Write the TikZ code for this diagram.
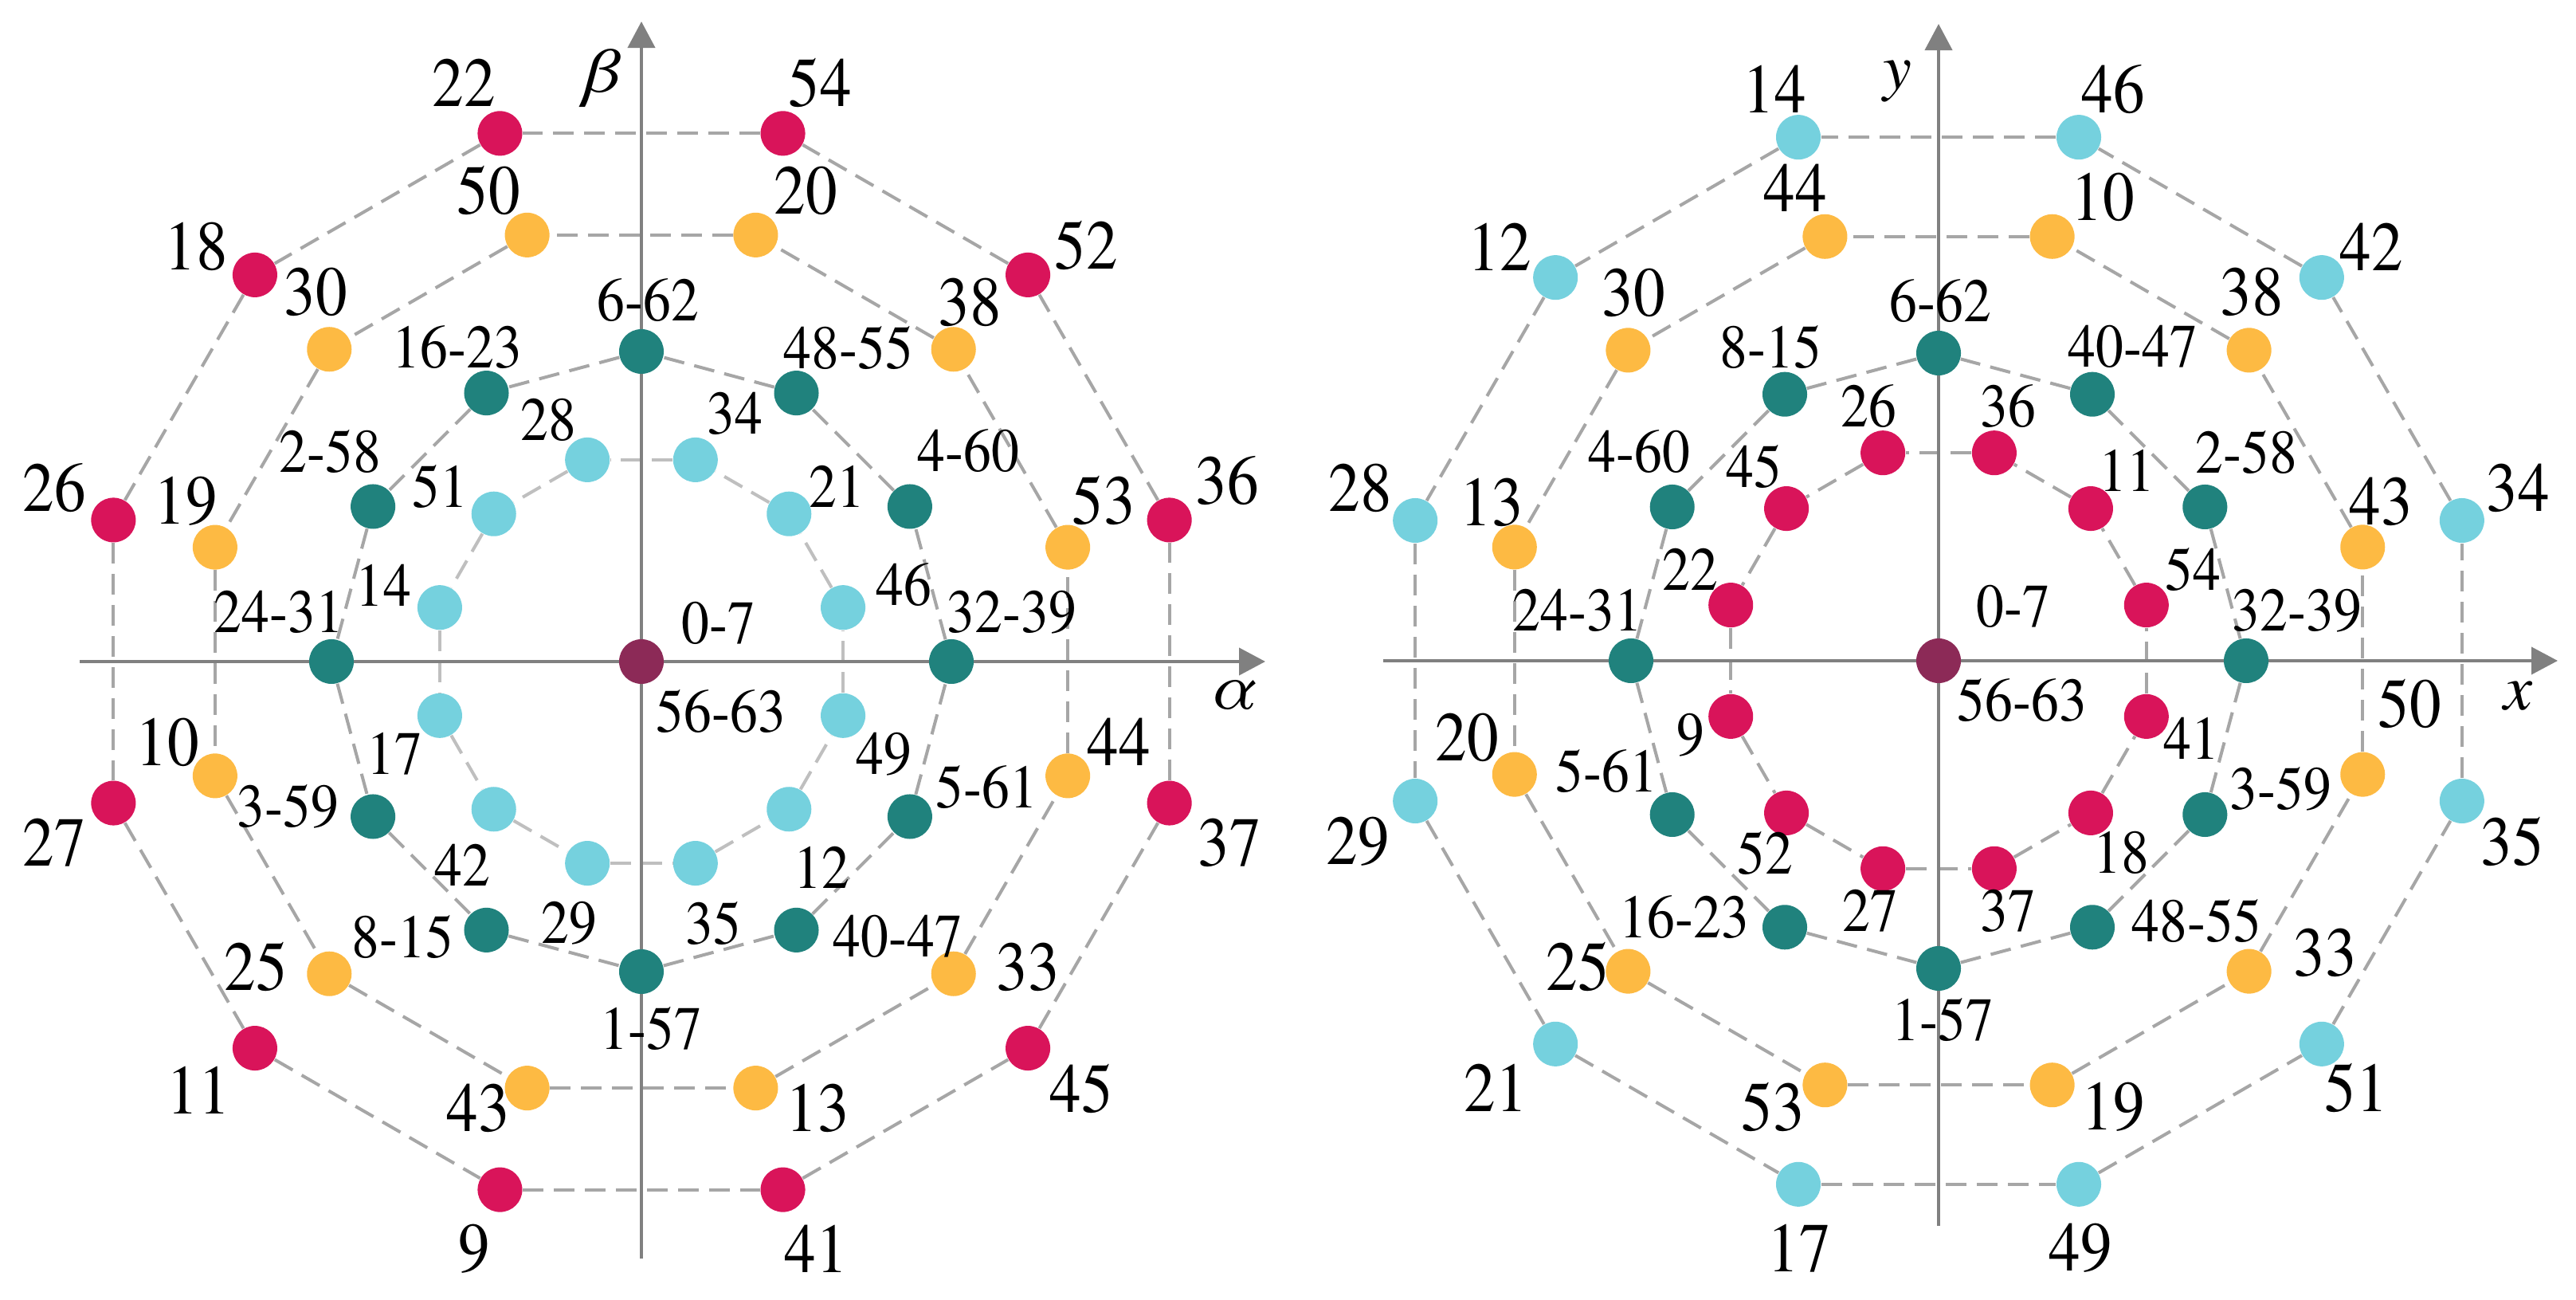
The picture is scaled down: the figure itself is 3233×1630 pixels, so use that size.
\documentclass[tikz,border=0pt]{standalone}
\usepackage{fontspec}
\setmainfont{TeX Gyre Termes}
\usetikzlibrary{arrows.meta,backgrounds}
\definecolor{cRed}{RGB}{217,20,90}
\definecolor{cOrange}{RGB}{253,186,67}
\definecolor{cTeal}{RGB}{32,130,125}
\definecolor{cCyan}{RGB}{117,209,222}
\definecolor{cMaroon}{RGB}{140,42,87}
\definecolor{cLine}{RGB}{166,166,166}
\definecolor{cLineLight}{RGB}{191,191,191}
\definecolor{cAxis}{RGB}{128,128,128}
\newcommand{\sq}[1]{\scalebox{0.9}[1]{#1}}
\tikzset{
  dot/.style={circle,inner sep=0pt,minimum size=0.56cm,draw=none},
  rdot/.style={dot,fill=cRed},
  odot/.style={dot,fill=cOrange},
  tdot/.style={dot,fill=cTeal},
  cdot/.style={dot,fill=cCyan},
  mdot/.style={dot,fill=cMaroon},
  ring/.style={draw=cLine,line width=1.14pt,dash pattern=on 0.26cm off 0.13cm},
  ringlight/.style={ring,draw=cLineLight},
  axis/.style={draw=cAxis,line width=1.14pt,-{Triangle[length=0.33cm,width=0.34cm]}},
  lbig/.style={inner sep=0pt,font=\fontsize{25}{25}\selectfont},
  lsmall/.style={inner sep=0pt,font=\fontsize{22}{22}\selectfont},
  laxis/.style={inner sep=0pt,font=\fontsize{23}{23}\selectfont\itshape},
}
\begin{document}
\begin{tikzpicture}[x=0.01cm,y=0.01cm]
\useasboundingbox (0,0) rectangle (3233,1630);
% ================= LEFT (alpha-beta) =================
\begin{scope}[shift={(805,800)}]
  \foreach \k in {0,...,11}{
    \node[rdot] (LA\k) at ({15+30*\k}:686) {};
    \node[odot] (LB\k) at ({15+30*\k}:554) {};
    \node[tdot] (LC\k) at ({30*\k}:389) {};
    \node[cdot] (LD\k) at ({15+30*\k}:262) {};
  }
  \coordinate (LXs) at (-705,0);
  \coordinate (LXe) at (783,0);
  \coordinate (LYs) at (0,-749);
  \coordinate (LYe) at (0,803);
  \begin{scope}[on background layer]
    \foreach \k in {0,...,11}{
      \pgfmathtruncatemacro{\n}{mod(\k+1,12)}
      \draw[ring] (LA\k) -- (LA\n);
      \draw[ring] (LB\k) -- (LB\n);
      \draw[ring] (LC\k) -- (LC\n);
      \draw[ringlight] (LD\k) -- (LD\n);
    }
    \draw[axis] (LXs) -- (LXe);
    \draw[axis] (LYs) -- (LYe);
  \end{scope}
  \node[mdot] (LO) at (0,0) {};
  % labels outer rings
  \node[lbig] (Ln22) at (-223,726) {\sq{22}};
  \node[lbig] (Ln54) at (224,726) {\sq{54}};
  \node[lbig] (Ln50) at (-192,591) {\sq{50}};
  \node[lbig] (Ln20) at (206,591) {\sq{20}};
  \node[lbig] (Ln18) at (-559,521) {\sq{18}};
  \node[lbig] (Ln52) at (558,522) {\sq{52}};
  \node[lbig] (Ln30) at (-409,464) {\sq{30}};
  \node[lbig] (Ln38) at (412,451) {\sq{38}};
  \node[lbig] (Ln26) at (-737,218) {\sq{26}};
  \node[lbig] (Ln19) at (-572,201) {\sq{19}};
  \node[lbig] (Ln53) at (580,202) {\sq{53}};
  \node[lbig] (Ln36) at (735,227) {\sq{36}};
  \node[lbig] (Ln10) at (-595,-101) {\sq{10}};
  \node[lbig] (Ln44) at (599,-101) {\sq{44}};
  \node[lbig] (Ln27) at (-737,-227) {\sq{27}};
  \node[lbig] (Ln37) at (738,-227) {\sq{37}};
  \node[lbig] (Ln25) at (-484,-383) {\sq{25}};
  \node[lbig] (Ln33) at (485,-383) {\sq{33}};
  \node[lbig] (Ln11) at (-556,-538) {\sq{11}};
  \node[lbig] (Ln45) at (552,-536) {\sq{45}};
  \node[lbig] (Ln43) at (-205,-560) {\sq{43}};
  \node[lbig] (Ln13) at (221,-560) {\sq{13}};
  \node[lbig] (Ln9) at (-210,-737) {\sq{9}};
  \node[lbig] (Ln41) at (219,-737) {\sq{41}};
  % labels inner rings
  \node[lsmall] (Ln6t62) at (8,453) {\sq{6-62}};
  \node[lsmall] (Ln16t23) at (-231,394) {\sq{16-23}};
  \node[lsmall] (Ln48t55) at (260,394) {\sq{48-55}};
  \node[lsmall] (Ln28) at (-117,303) {\sq{28}};
  \node[lsmall] (Ln34) at (117,311) {\sq{34}};
  \node[lsmall] (Ln2t58) at (-391,264) {\sq{2-58}};
  \node[lsmall] (Ln4t60) at (410,264) {\sq{4-60}};
  \node[lsmall] (Ln51) at (-253,220) {\sq{51}};
  \node[lsmall] (Ln21) at (245,220) {\sq{21}};
  \node[lsmall] (Ln14) at (-324,96) {\sq{14}};
  \node[lsmall] (Ln46) at (329,96) {\sq{46}};
  \node[lsmall] (Ln24t31) at (-455,62) {\sq{24-31}};
  \node[lsmall] (Ln32t39) at (465,62) {\sq{32-39}};
  \node[lsmall] (Ln0t7) at (97,48) {\sq{0-7}};
  \node[lsmall] (Ln56t63) at (100,-62) {\sq{56-63}};
  \node[lsmall] (Ln17) at (-310,-116) {\sq{17}};
  \node[lsmall] (Ln49) at (304,-116) {\sq{49}};
  \node[lsmall] (Ln3t59) at (-444,-182) {\sq{3-59}};
  \node[lsmall] (Ln5t61) at (433,-157) {\sq{5-61}};
  \node[lsmall] (Ln42) at (-225,-255) {\sq{42}};
  \node[lsmall] (Ln12) at (226,-258) {\sq{12}};
  \node[lsmall] (Ln8t15) at (-300,-345) {\sq{8-15}};
  \node[lsmall] (Ln29) at (-91,-328) {\sq{29}};
  \node[lsmall] (Ln35) at (90,-328) {\sq{35}};
  \node[lsmall] (Ln40t47) at (322,-345) {\sq{40-47}};
  \node[lsmall] (Ln1t57) at (12,-460) {\sq{1-57}};
  \node[laxis] (Lbeta) at (-52,732) {β};
  \node[laxis] (Lalpha) at (742,-42) {α};
\end{scope}
% ================= RIGHT (x-y) =================
\begin{scope}[shift={(2433,801)}]
  \foreach \k in {0,...,11}{
    \node[cdot] (RA\k) at ({15+30*\k}:680) {};
    \node[odot] (RB\k) at ({15+30*\k}:551) {};
    \node[tdot] (RC\k) at ({30*\k}:386) {};
    \node[rdot] (RD\k) at ({15+30*\k}:270) {};
  }
  \coordinate (RXs) at (-697,0);
  \coordinate (RXe) at (777,0);
  \coordinate (RYs) at (0,-709);
  \coordinate (RYe) at (0,799);
  \begin{scope}[on background layer]
    \foreach \k in {0,...,11}{
      \pgfmathtruncatemacro{\n}{mod(\k+1,12)}
      \draw[ring] (RA\k) -- (RA\n);
      \draw[ring] (RB\k) -- (RB\n);
      \draw[ring] (RC\k) -- (RC\n);
      \draw[ring] (RD\k) -- (RD\n);
    }
    \draw[axis] (RXs) -- (RXe);
    \draw[axis] (RYs) -- (RYe);
  \end{scope}
  \node[mdot] (RO) at (0,0) {};
  % labels outer rings
  \node[lbig] (Rn14) at (-206,717) {\sq{14}};
  \node[lbig] (Rn46) at (219,717) {\sq{46}};
  \node[lbig] (Rn44) at (-180,593) {\sq{44}};
  \node[lbig] (Rn10) at (206,582) {\sq{10}};
  \node[lbig] (Rn12) at (-551,519) {\sq{12}};
  \node[lbig] (Rn42) at (543,519) {\sq{42}};
  \node[lbig] (Rn30) at (-383,462) {\sq{30}};
  \node[lbig] (Rn38) at (393,463) {\sq{38}};
  \node[lbig] (Rn28) at (-726,217) {\sq{28}};
  \node[lbig] (Rn13) at (-561,199) {\sq{13}};
  \node[lbig] (Rn43) at (555,200) {\sq{43}};
  \node[lbig] (Rn34) at (727,217) {\sq{34}};
  \node[lbig] (Rn20) at (-592,-96) {\sq{20}};
  \node[lbig] (Rn50) at (591,-54) {\sq{50}};
  \node[lbig] (Rn29) at (-729,-227) {\sq{29}};
  \node[lbig] (Rn35) at (720,-227) {\sq{35}};
  \node[lbig] (Rn25) at (-453,-384) {\sq{25}};
  \node[lbig] (Rn33) at (485,-366) {\sq{33}};
  \node[lbig] (Rn21) at (-556,-536) {\sq{21}};
  \node[lbig] (Rn51) at (524,-536) {\sq{51}};
  \node[lbig] (Rn53) at (-208,-560) {\sq{53}};
  \node[lbig] (Rn19) at (219,-560) {\sq{19}};
  \node[lbig] (Rn17) at (-175,-737) {\sq{17}};
  \node[lbig] (Rn49) at (178,-737) {\sq{49}};
  % labels inner rings
  \node[lsmall] (Rn6t62) at (2,451) {\sq{6-62}};
  \node[lsmall] (Rn8t15) at (-211,394) {\sq{8-15}};
  \node[lsmall] (Rn40t47) at (244,394) {\sq{40-47}};
  \node[lsmall] (Rn26) at (-88,319) {\sq{26}};
  \node[lsmall] (Rn36) at (87,319) {\sq{36}};
  \node[lsmall] (Rn4t60) at (-376,262) {\sq{4-60}};
  \node[lsmall] (Rn45) at (-232,244) {\sq{45}};
  \node[lsmall] (Rn11) at (236,239) {\sq{11}};
  \node[lsmall] (Rn2t58) at (386,262) {\sq{2-58}};
  \node[lsmall] (Rn22) at (-312,115) {\sq{22}};
  \node[lsmall] (Rn54) at (319,115) {\sq{54}};
  \node[lsmall] (Rn24t31) at (-453,63) {\sq{24-31}};
  \node[lsmall] (Rn32t39) at (450,63) {\sq{32-39}};
  \node[lsmall] (Rn0t7) at (94,68) {\sq{0-7}};
  \node[lsmall] (Rn56t63) at (105,-49) {\sq{56-63}};
  \node[lsmall] (Rn9) at (-311,-93) {\sq{9}};
  \node[lsmall] (Rn41) at (317,-97) {\sq{41}};
  \node[lsmall] (Rn5t61) at (-417,-138) {\sq{5-61}};
  \node[lsmall] (Rn3t59) at (429,-161) {\sq{3-59}};
  \node[lsmall] (Rn52) at (-218,-241) {\sq{52}};
  \node[lsmall] (Rn18) at (229,-241) {\sq{18}};
  \node[lsmall] (Rn27) at (-86,-314) {\sq{27}};
  \node[lsmall] (Rn37) at (87,-314) {\sq{37}};
  \node[lsmall] (Rn16t23) at (-319,-322) {\sq{16-23}};
  \node[lsmall] (Rn48t55) at (324,-326) {\sq{48-55}};
  \node[lsmall] (Rn1t57) at (5,-450) {\sq{1-57}};
  \node[laxis] (Ry) at (-52,727) {y};
  \node[laxis] (Rx) at (727,-44) {x};
\end{scope}
\end{tikzpicture}
\end{document}
